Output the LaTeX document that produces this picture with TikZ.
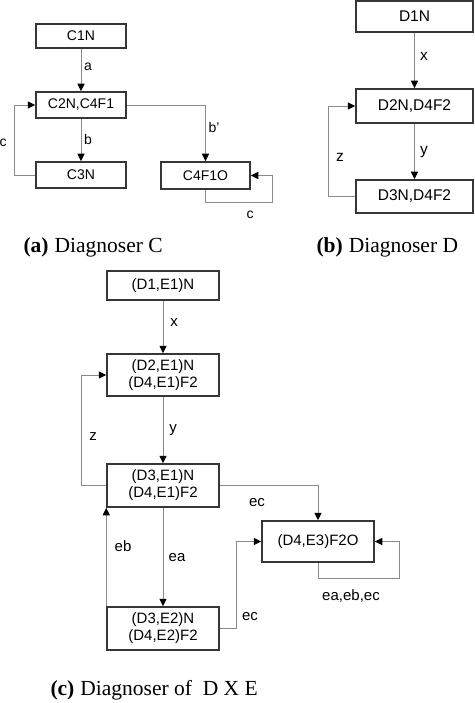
\documentclass[tikz,border=0pt]{standalone}
\usepackage{fontspec}
\setmainfont{Liberation Serif}
\setsansfont{Liberation Sans}
\usetikzlibrary{positioning,arrows.meta}
\definecolor{boxdark}{HTML}{363636}
\definecolor{edgegray}{HTML}{8A8A8A}

\begin{document}
\begin{tikzpicture}[x=1pt,y=-1pt,>={Triangle[length=7.5pt,width=7pt,color=black]},
    fa/.style={font=\sffamily\fontsize{14}{16}\selectfont},
    fb/.style={font=\sffamily\fontsize{15.5}{17}\selectfont},
    fc/.style={font=\sffamily\fontsize{15}{17}\selectfont},
    state/.style={draw=boxdark,line width=1.5pt,fill=white,inner sep=0pt,align=center},
    edge/.style={->,edgegray,line width=0.9pt},
    subcaption/.style={anchor=west,font=\fontsize{21.5}{23}\selectfont}]
  \useasboundingbox (0,0) rectangle (474,703);
  % (a)
  \node[state,fa,minimum width=90,minimum height=24] (c1n) at (81,36) {C1N};
  \node[state,fa,minimum width=90,minimum height=26] (c2n) at (81,105) {C2N,C4F1};
  \node[state,fa,minimum width=90,minimum height=26] (c3n) at (81,175) {C3N};
  \node[state,fa,minimum width=89,minimum height=27] (c4f1o) at (205.5,175.5) {C4F1O};
  \draw[edge] (c1n) -- (c2n);
  \draw[edge] (c2n) -- (c3n);
  \draw[edge] (c2n.east) -| (c4f1o.north);
  \draw[edge] (c3n.west) -- ++(-21,0) |- (c2n.west);
  \draw[edge] (c4f1o.south) -- ++(0,13) -- ++(67,0) |- (c4f1o.east);
  \node[fa] (lbla) at (88,67) {a};
  \node[fa] (lblb) at (88,139) {b};
  \node[fa] (lblbp) at (214,127) {b'};
  \node[fa] (lblc) at (3,143) {c};
  \node[fa] (lblcself) at (250,215) {c};
  \node[subcaption] (capa) at (20,247) {\textbf{(a)}\hspace{6pt}Diagnoser C};
  % (b)
  \node[state,fb,minimum width=117,minimum height=31] (d1n) at (414.5,16.5) {D1N};
  \node[state,fb,minimum width=117,minimum height=34] (d2n) at (414.5,106) {D2N,D4F2};
  \node[state,fb,minimum width=117,minimum height=33] (d3n) at (414.5,196.5) {D3N,D4F2};
  \draw[edge] (d1n) -- (d2n);
  \draw[edge] (d2n) -- (d3n);
  \draw[edge] (d3n.west) -- ++(-27,0) |- (d2n.west);
  \node[fb] (lblx) at (424,56) {x};
  \node[fb] (lbly) at (424,152) {y};
  \node[fb] (lblz) at (340,157) {z};
  \node[subcaption] (capb) at (313,247) {\textbf{(b)}\hspace{6pt}Diagnoser D};
  % (c)
  \node[state,fc,minimum width=112,minimum height=29] (de1) at (163,285.5) {(D1,E1)N};
  \node[state,fc,minimum width=112,minimum height=42] (de2) at (163,375) {(D2,E1)N\\(D4,E1)F2};
  \node[state,fc,minimum width=112,minimum height=43] (de3) at (163,485.5) {(D3,E1)N\\(D4,E1)F2};
  \node[state,fc,minimum width=112,minimum height=43] (de4) at (163,628.5) {(D3,E2)N\\(D4,E2)F2};
  \node[state,fc,minimum width=112,minimum height=41] (de5) at (318,541.5) {(D4,E3)F2O};
  \draw[edge] (de1) -- (de2);
  \draw[edge] (de2) -- (de3);
  \draw[edge] (de3) -- (de4);
  \draw[edge] (de4.north west) -- (de3.south west);
  \draw[edge] (de3.west) -- ++(-25,0) |- (de2.west);
  \draw[edge] (de3.east) -| (de5.north);
  \draw[edge] (de4.east) -- ++(17,0) |- (de5.west);
  \draw[edge] (de5.south) -- ++(0,16) -- ++(81,0) |- (de5.east);
  \node[fc] (lblcx) at (174,323) {x};
  \node[fc] (lblcy) at (173,430) {y};
  \node[fc] (lblcz) at (93,437) {z};
  \node[fc] (lblec) at (257,503) {ec};
  \node[fc] (lblea) at (177,558) {ea};
  \node[fc] (lbleb) at (123,546) {eb};
  \node[fc] (lblectwo) at (250,617) {ec};
  \node[fc] (lblself) at (351,596) {ea,eb,ec};
  \node[subcaption] (capc) at (47,690) {\textbf{(c)}\hspace{6pt}Diagnoser of\ \ D X E};
\end{tikzpicture}
\end{document}
